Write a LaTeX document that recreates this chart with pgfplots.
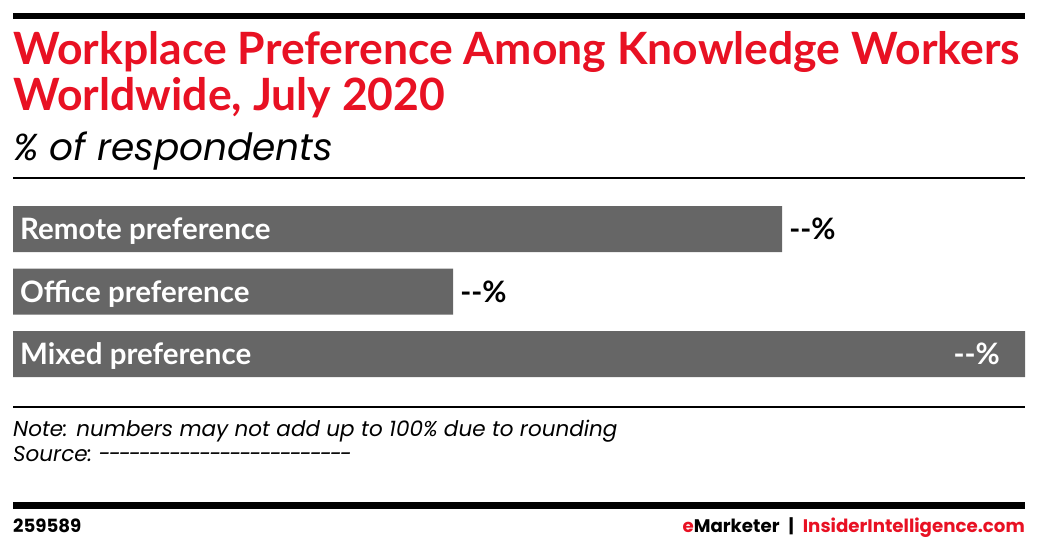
\documentclass[border=0pt]{standalone}
\usepackage{pgfplots}
\pgfplotsset{compat=1.18}
\usepackage{fontspec}
\setmainfont{Lato}
\newfontfamily\widefont{Poppins}
\definecolor{emRed}{RGB}{232,17,35}
\definecolor{barGray}{RGB}{102,102,102}
\newcommand\sd{-\kern-1.8pt}

\begin{document}
\begin{tikzpicture}
\path[use as bounding box] (0,0) rectangle (1038pt,-551pt);

% rules
\fill[black] (13pt,-13pt) rectangle (1025pt,-19pt);
\fill[black] (13pt,-177pt) rectangle (1025pt,-179pt);
\fill[black] (13pt,-406pt) rectangle (1025pt,-408pt);
\fill[black] (13pt,-502pt) rectangle (1025pt,-509pt);

% title block
\node[anchor=base west, inner sep=0, text=emRed, font=\fontsize{44.5}{48}\selectfont\bfseries]
  at (13pt,-64pt) {Workplace Preference Among Knowledge Workers};
\node[anchor=base west, inner sep=0, text=emRed, font=\fontsize{44.5}{48}\selectfont\bfseries]
  at (13pt,-110pt) {Worldwide, July 2020};
\node[anchor=base west, inner sep=0, font=\widefont\itshape\fontsize{37.5}{40}\selectfont]
  at (13pt,-160pt) {\% of respondents};

\begin{axis}[
    at={(13pt,-377pt)}, anchor=south west,
    scale only axis,
    width=1012pt, height=171pt,
    xbar, bar width=46pt,
    xmin=0, xmax=100,
    ymin=-0.368, ymax=2.368,
    y dir=reverse,
    hide axis, clip=false,
]
\addplot[fill=barGray, draw=none] coordinates {(76,0) (43.5,1) (100,2)};

% category labels inside the bars
\node[anchor=base west, inner sep=0, text=white, font=\fontsize{29.5}{32}\selectfont\bfseries,
  xshift=7pt, yshift=-10.5pt] at (axis cs:0,0) {Remote preference};
\node[anchor=base west, inner sep=0, text=white, font=\fontsize{29.5}{32}\selectfont\bfseries,
  xshift=7pt, yshift=-10.5pt] at (axis cs:0,1) {Office preference};
\node[anchor=base west, inner sep=0, text=white, font=\fontsize{29.5}{32}\selectfont\bfseries,
  xshift=7pt, yshift=-10.5pt] at (axis cs:0,2) {Mixed preference};

% value labels
\node[anchor=base west, inner sep=0, font=\fontsize{29.5}{32}\selectfont\bfseries,
  xshift=7pt, yshift=-10.5pt] at (axis cs:76,0) {-{}-\%};
\node[anchor=base west, inner sep=0, font=\fontsize{29.5}{32}\selectfont\bfseries,
  xshift=7pt, yshift=-10.5pt] at (axis cs:43.5,1) {-{}-\%};
\node[anchor=base east, inner sep=0, text=white, font=\fontsize{29.5}{32}\selectfont\bfseries,
  xshift=-25pt, yshift=-10.5pt] at (axis cs:100,2) {-{}-\%};
\end{axis}

% note and source
\node[anchor=base west, inner sep=0, font=\widefont\itshape\fontsize{21.5}{26}\selectfont]
  at (13pt,-436pt) {Note: numbers may not add up to 100\% due to rounding};
\node[anchor=base west, inner sep=0, font=\widefont\itshape\fontsize{21.5}{26}\selectfont]
  at (13pt,-461pt) {Source:\hspace{-2pt} \sd\sd\sd\sd\sd\sd\sd\sd\sd\sd\sd\sd\sd\sd\sd\sd\sd\sd\sd\sd\sd\sd\sd\sd-};

% footer
\node[anchor=base west, inner sep=0, font=\widefont\bfseries\fontsize{18.2}{20}\selectfont]
  at (13pt,-532pt) {259589};
\node[anchor=base east, inner sep=0, font=\widefont\bfseries\fontsize{18.2}{20}\selectfont]
  at (1025pt,-532pt) {\textcolor{emRed}{e}Marketer\hspace{9pt}|\hspace{9pt}\textcolor{emRed}{InsiderIntelligence.com}};
\end{tikzpicture}
\end{document}
